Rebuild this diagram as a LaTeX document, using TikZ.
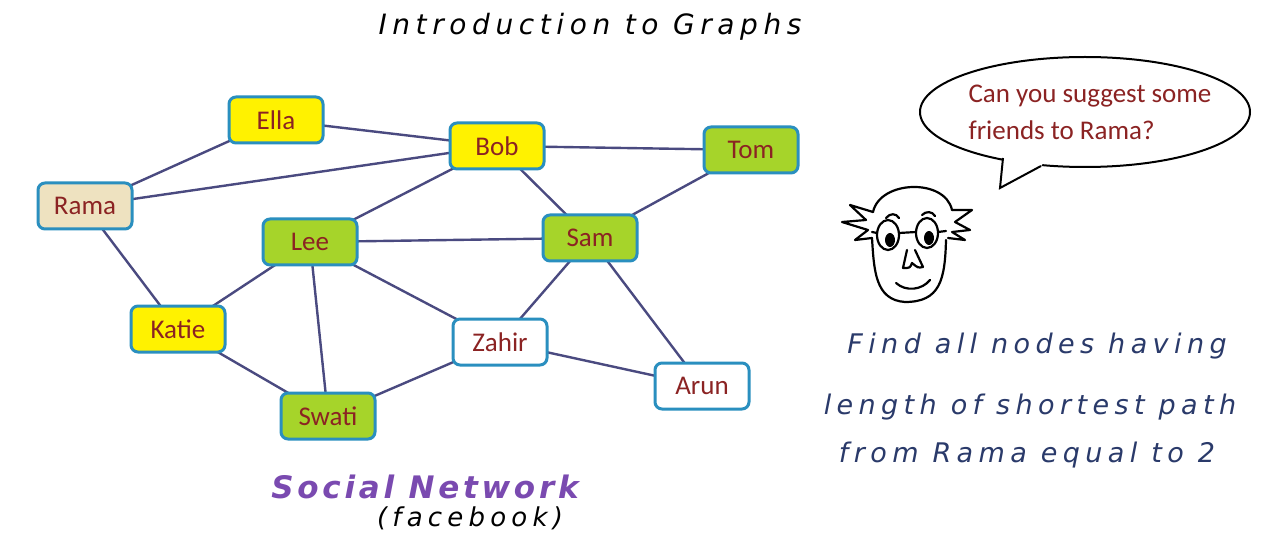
\documentclass[tikz,border=0pt]{standalone}
\usepackage{fontspec}
\setmainfont{Carlito}
\newfontfamily\hand[LetterSpace=20]{DejaVu Sans}
\newfontfamily\handb[LetterSpace=12]{DejaVu Sans}
\definecolor{nyel}{HTML}{FFF200}
\definecolor{ngrn}{HTML}{A6D42A}
\definecolor{nbeige}{HTML}{EEE2C0}
\definecolor{nbord}{HTML}{2A8FBF}
\definecolor{ntxt}{HTML}{8B2323}
\definecolor{edgec}{HTML}{4A4A80}
\definecolor{purp}{HTML}{7A4AB0}
\definecolor{handblue}{HTML}{2A3A6A}
\begin{document}
\begin{tikzpicture}[x=1pt,y=-1pt,
 person/.style={draw=nbord,line width=3pt,rounded corners=7pt,minimum width=94pt,minimum height=46pt,font=\fontsize{27}{29}\selectfont,text=ntxt},
 yel/.style={person,fill=nyel}, grn/.style={person,fill=ngrn}, wht/.style={person,fill=white},
 link/.style={draw=edgec,line width=2.4pt},
 hw/.style={font=\hand\itshape\fontsize{27}{29}\selectfont,text=handblue}]
\useasboundingbox (0,0) rectangle (1280,540);
\fill[white] (0,0) rectangle (1280,540);
\foreach \n/\x/\y in {ella/276/120,bob/497/146,tom/751/150,rama/85/206,lee/310/242,sam/590/238,katie/178/329,zahir/500/342,arun/702/386,swati/328/416}
 \coordinate (p\n) at (\x,\y);
\foreach \a/\b in {ella/rama,ella/bob,rama/bob,rama/katie,bob/tom,bob/lee,bob/sam,lee/sam,lee/katie,lee/swati,lee/zahir,sam/tom,sam/zahir,sam/arun,katie/swati,swati/zahir,zahir/arun}
 \draw[link] (p\a) -- (p\b);
\node[yel] (ella) at (pella) {Ella};
\node[yel] (bob) at (pbob) {Bob};
\node[grn] (tom) at (ptom) {Tom};
\node[person,fill=nbeige] (rama) at (prama) {Rama};
\node[grn] (lee) at (plee) {Lee};
\node[grn] (sam) at (psam) {Sam};
\node[yel] (katie) at (pkatie) {Katie};
\node[wht] (zahir) at (pzahir) {Zahir};
\node[wht] (arun) at (parun) {Arun};
\node[grn] (swati) at (pswati) {Swati};
\node[font=\hand\itshape\fontsize{28}{30}\selectfont] (title) at (590,27) {Introduction to Graphs};
\node[font=\handb\bfseries\itshape\fontsize{31}{33}\selectfont,text=purp] (sn) at (425,487) {Social Network};
\node[font=\hand\itshape\fontsize{26}{28}\selectfont] (fb) at (470,518) {(facebook)};
\node[hw] (l1) at (1037,346) {Find all nodes having};
\node[hw] (l2) at (1030,407) {length of shortest path};
\node[hw] (l3) at (1027,455) {from Rama equal to 2};
% speech bubble
\coordinate (tail) at (1000,188);
\draw[line width=2pt,fill=white] (1085,112) ellipse [x radius=165,y radius=55];
\fill[white] (1005,150) -- (1045,160) -- (1040,168) -- (1002,162) -- cycle;
\draw[line width=2pt] (1003,158) -- (tail) -- (1041,166);
\node[align=left,text=ntxt,font=\fontsize{27}{37}\selectfont] (bub) at (1090,112) {Can you suggest some\\friends to Rama?};
% face
\begin{scope}[line width=2.2pt,line cap=round,line join=round]
\draw (873,212) .. controls (880,180) and (945,178) .. (952,210);
\draw (873,212) -- (850,205) -- (866,220) -- (842,222) -- (868,230) -- (855,240) -- (872,238);
\draw (952,210) -- (972,210) -- (955,222) -- (970,230) -- (952,232) -- (965,240) -- (948,238);
\draw (872,238) .. controls (874,270) and (875,300) .. (905,302) .. controls (940,302) and (945,280) .. (946,240);
\draw (886,218) .. controls (890,213) and (896,213) .. (899,218);
\draw (922,215) .. controls (926,211) and (932,211) .. (935,216);
\draw (888,235) ellipse [x radius=11,y radius=15];
\draw (927,233) ellipse [x radius=11,y radius=15];
\fill (890,240) ellipse [x radius=5,y radius=7];
\fill (929,238) ellipse [x radius=5,y radius=7];
\draw (899,233) -- (916,232);
\draw (877,233) -- (872,232); \draw (938,232) -- (946,231);
\draw (907,250) -- (903,268) .. controls (910,268) .. (912,263) .. controls (918,268) .. (923,267) -- (915,250);
\draw (896,283) .. controls (906,292) and (922,290) .. (930,280);
\end{scope}
\end{tikzpicture}
\end{document}
